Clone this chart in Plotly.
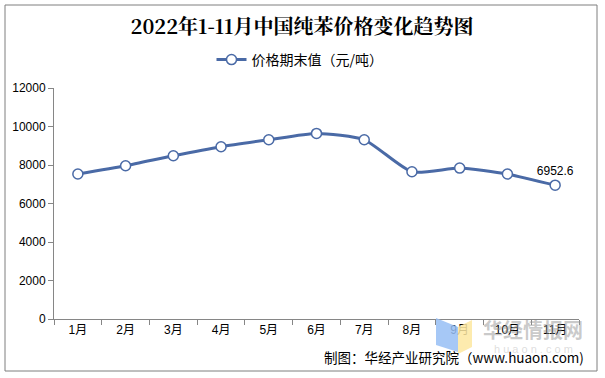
import plotly.graph_objects as go

months = ["1月", "2月", "3月", "4月", "5月", "6月", "7月", "8月", "9月", "10月", "11月"]
prices = [7530, 7960, 8480, 8950, 9310, 9640, 9310, 7650, 7840, 7530, 6952.6]
y_ticks = [0, 2000, 4000, 6000, 8000, 10000, 12000]
series_name = "价格期末值（元/吨）"
title_text = "2022年1-11月中国纯苯价格变化趋势图"
source_text = "制图：华经产业研究院（www.huaon.com)"

W, H = 605, 378
L, R, T, B = 54, 26, 88, 59
pw, ph = W - L - R, H - T - B


def px(x):
    return (x - L) / pw


def py(y):
    return (H - B - y) / ph


FONT = "Liberation Sans, Arial, Noto Sans CJK SC, sans-serif"
COLOR = "#4A6AA6"

labels = [""] * (len(prices) - 1) + [f"{prices[-1]:g}"]

fig = go.Figure()
fig.add_trace(go.Scatter(
    x=months, y=prices, name=series_name,
    mode="lines+markers+text",
    line=dict(color=COLOR, width=3, shape="spline", smoothing=0.6),
    marker=dict(size=10, color="white", line=dict(color=COLOR, width=1.5)),
    text=labels, textposition="top center",
    textfont=dict(family=FONT, size=12, color="#000000"),
))

shapes = [
    dict(type="rect", xref="paper", yref="paper",
         x0=px(5), x1=px(597), y0=py(371), y1=py(5),
         line=dict(color="#7f7f7f", width=1), fillcolor="rgba(0,0,0,0)", layer="below"),
    dict(type="path", xref="paper", yref="paper",
         path=f"M {px(436)} {py(318)} L {px(458)} {py(327)} L {px(458)} {py(352)} L {px(436)} {py(345)} Z",
         fillcolor="rgba(150,190,245,0.85)", line=dict(width=0), layer="above"),
    dict(type="path", xref="paper", yref="paper",
         path=f"M {px(458)} {py(327)} L {px(472)} {py(320)} L {px(472)} {py(347)} L {px(458)} {py(354)} Z",
         fillcolor="rgba(253,232,160,0.85)", line=dict(width=0), layer="above"),
]

annotations = [
    dict(text=source_text, xref="paper", yref="paper", x=px(586), y=py(357),
         xanchor="right", yanchor="middle", showarrow=False,
         font=dict(family="Noto Sans CJK SC, sans-serif", size=13.5, color="#000000")),
    dict(text="<b>华经情报网</b>", xref="paper", yref="paper", x=px(533), y=py(329),
         xanchor="center", yanchor="middle", showarrow=False,
         font=dict(family="Noto Sans CJK SC, sans-serif", size=20, color="rgba(150,150,150,0.5)")),
    dict(text="h u a o n . c o m", xref="paper", yref="paper", x=px(533), y=py(349),
         xanchor="center", yanchor="middle", showarrow=False,
         font=dict(family=FONT, size=11, color="rgba(170,170,170,0.4)")),
]

fig.update_layout(
    width=W, height=H,
    margin=dict(l=L, r=R, t=T, b=B, autoexpand=False),
    paper_bgcolor="white", plot_bgcolor="white",
    title=dict(text=f"<b>{title_text}</b>", x=302 / W, xanchor="center",
               y=1 - 27 / H, yanchor="middle",
               font=dict(family="Noto Serif CJK SC, Noto Sans CJK SC, serif", size=20, color="#000000")),
    showlegend=True,
    legend=dict(orientation="h", x=px(300), xanchor="center", y=py(60), yanchor="middle",
                font=dict(family="Noto Sans CJK SC, sans-serif", size=14, color="#000000"),
                bgcolor="rgba(0,0,0,0)", itemwidth=30),
    xaxis=dict(type="category", range=[-0.5, len(months) - 0.5],
               showline=True, linecolor="#868686", linewidth=1,
               ticks="outside", tickson="boundaries", ticklen=5, tickcolor="#868686",
               showgrid=False, zeroline=False,
               tickfont=dict(family=FONT, size=12, color="#000000")),
    yaxis=dict(range=[0, 12000], tickvals=y_ticks, tickformat="d",
               showline=True, linecolor="#868686", linewidth=1,
               ticks="outside", ticklen=5, tickcolor="#868686",
               showgrid=False, zeroline=False,
               tickfont=dict(family=FONT, size=12, color="#000000")),
    shapes=shapes, annotations=annotations,
)

fig.write_html("out.html", config={"displayModeBar": False},
               post_script="document.body.style.margin='0';document.body.style.padding='0';")
